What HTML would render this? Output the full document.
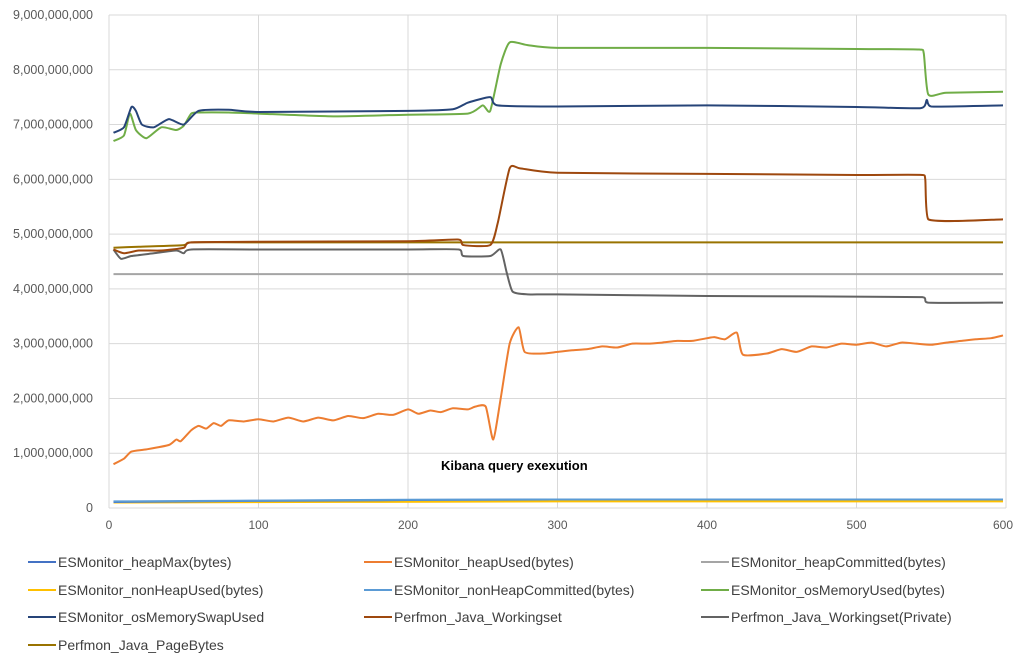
<!DOCTYPE html>
<html><head><meta charset="utf-8"><style>
body{margin:0;background:#fff;width:1024px;height:663px;overflow:hidden;font-family:"Liberation Sans",sans-serif}
svg text{font-family:"Liberation Sans",sans-serif}
</style></head><body>
<svg id="chart" width="1024" height="663" viewBox="0 0 1024 663" xmlns="http://www.w3.org/2000/svg">
<g id="grid"></g><g id="axes"></g><g id="lines"></g>
<text x="441" y="470" font-size="13" font-weight="bold" fill="#000">Kibana query exexution</text>
<g id="legend"></g>
</svg>
<script>
const yTicks=[0,1,2,3,4,5,6,7,8,9];
const yTickLabels=["0","1,000,000,000","2,000,000,000","3,000,000,000","4,000,000,000","5,000,000,000","6,000,000,000","7,000,000,000","8,000,000,000","9,000,000,000"];
const xTicks=[0,100,200,300,400,500,600];
const seriesNames=["ESMonitor_heapMax(bytes)","ESMonitor_heapUsed(bytes)","ESMonitor_heapCommitted(bytes)","ESMonitor_nonHeapUsed(bytes)","ESMonitor_nonHeapCommitted(bytes)","ESMonitor_osMemoryUsed(bytes)","ESMonitor_osMemorySwapUsed","Perfmon_Java_Workingset","Perfmon_Java_Workingset(Private)","Perfmon_Java_PageBytes"];
const seriesColors=["#4472c4","#ed7d31","#a5a5a5","#ffc000","#5b9bd5","#70ad47","#264478","#9e480e","#636363","#997300"];
// values in billions of bytes, [x, value]
const heapMax=[[3,0.11],[100,0.13],[200,0.145],[300,0.155],[598,0.155]];
const heapUsed=[[3,0.80],[10,0.90],[15,1.03],[25,1.07],[40,1.15],[45,1.25],[48,1.22],[55,1.42],[60,1.50],[65,1.45],[70,1.55],[75,1.50],[80,1.60],[90,1.58],[100,1.62],[110,1.58],[120,1.65],[130,1.58],[140,1.65],[150,1.60],[160,1.68],[170,1.64],[180,1.72],[190,1.70],[200,1.80],[207,1.72],[215,1.78],[222,1.75],[230,1.82],[240,1.80],[245,1.85],[252,1.85],[257,1.25],[262,2.0],[268,3.0],[274,3.3],[278,2.85],[290,2.82],[300,2.85],[310,2.88],[320,2.9],[330,2.95],[340,2.93],[350,3.0],[360,3.0],[370,3.02],[380,3.05],[390,3.05],[400,3.1],[405,3.12],[412,3.08],[420,3.2],[424,2.8],[440,2.82],[450,2.9],[460,2.85],[470,2.95],[480,2.93],[490,3.0],[500,2.98],[510,3.02],[520,2.95],[530,3.02],[540,3.0],[550,2.98],[560,3.02],[570,3.05],[580,3.08],[590,3.1],[598,3.15]];
const heapCommitted=[[3,4.27],[598,4.27]];
const nonHeapUsed=[[3,0.10],[300,0.12],[598,0.12]];
const nonHeapCommitted=[[3,0.12],[100,0.135],[200,0.15],[300,0.155],[598,0.155]];
const osMemoryUsed=[[3,6.7],[10,6.8],[14,7.2],[18,6.9],[25,6.75],[35,6.95],[45,6.9],[50,6.98],[55,7.2],[60,7.22],[80,7.22],[100,7.2],[150,7.15],[200,7.18],[240,7.2],[250,7.35],[255,7.25],[262,8.1],[268,8.5],[280,8.45],[300,8.4],[400,8.4],[500,8.38],[542,8.37],[545,8.3],[548,7.55],[560,7.58],[598,7.6]];
const osMemorySwapUsed=[[3,6.85],[10,6.95],[15,7.32],[18,7.25],[22,7.0],[30,6.95],[40,7.1],[50,7.0],[60,7.25],[80,7.27],[100,7.23],[200,7.25],[230,7.28],[240,7.4],[255,7.5],[260,7.35],[300,7.33],[400,7.35],[500,7.32],[543,7.3],[547,7.45],[550,7.33],[598,7.35]];
const workingset=[[3,4.72],[10,4.65],[20,4.7],[35,4.7],[50,4.75],[55,4.85],[100,4.86],[200,4.87],[234,4.9],[237,4.8],[255,4.8],[260,5.2],[268,6.2],[275,6.2],[300,6.12],[400,6.1],[500,6.08],[544,6.08],[546,6.0],[548,5.27],[598,5.27]];
const workingsetPrivate=[[3,4.72],[8,4.55],[15,4.6],[30,4.65],[45,4.7],[50,4.65],[55,4.72],[100,4.72],[200,4.72],[234,4.72],[237,4.6],[255,4.6],[262,4.72],[266,4.3],[270,3.95],[280,3.9],[300,3.9],[400,3.87],[544,3.85],[548,3.75],[598,3.75]];
const pageBytes=[[3,4.75],[20,4.77],[50,4.8],[55,4.85],[100,4.85],[300,4.85],[598,4.85]];
const seriesData=[heapMax,heapUsed,heapCommitted,nonHeapUsed,nonHeapCommitted,osMemoryUsed,osMemorySwapUsed,workingset,workingsetPrivate,pageBytes];
const drawOrder=[3,0,4,2,1,9,8,7,5,6];

const NS="http://www.w3.org/2000/svg";
const X0=109,X1=1006,Y0=508,Y1=15;
const sx=v=>X0+(v/600)*(X1-X0);
const sy=v=>Y0-(v/9)*(Y0-Y1);
function mk(tag,attrs,parent){const e=document.createElementNS(NS,tag);for(const k in attrs)e.setAttribute(k,attrs[k]);parent.appendChild(e);return e;}
const grid=document.getElementById('grid'),axes=document.getElementById('axes'),lines=document.getElementById('lines'),legend=document.getElementById('legend');
yTicks.forEach((t,i)=>{
  const l=mk('line',{x1:X0,x2:X1,y1:sy(t),y2:sy(t),stroke:'#d9d9d9','stroke-width':1},grid);
  
  
  const tx=mk('text',{x:93,y:sy(t)+4,'text-anchor':'end','font-size':12.5,fill:'#595959'},axes);
  tx.textContent=yTickLabels[i];
  
  
});
xTicks.forEach(t=>{
  const l=mk('line',{x1:sx(t),x2:sx(t),y1:Y1,y2:Y0,stroke:'#d9d9d9','stroke-width':1},grid);
  
  
  const tx=mk('text',{x:sx(t)-(t===600?3:0),y:529,'text-anchor':'middle','font-size':12,fill:'#595959'},axes);
  tx.textContent=String(t);
  
  
});
function pathFor(pts){
  const p=pts.map(d=>[sx(d[0]),sy(d[1])]);
  let s='M'+p[0][0]+','+p[0][1];
  for(let i=0;i<p.length-1;i++){
    const p0=p[i-1]||p[i],p1=p[i],p2=p[i+1],p3=p[i+2]||p2;
    const c1=[p1[0]+(p2[0]-p0[0])/10,p1[1]+(p2[1]-p0[1])/10];
    const c2=[p2[0]-(p3[0]-p1[0])/10,p2[1]-(p3[1]-p1[1])/10];
    c1[0]=Math.min(Math.max(c1[0],p1[0]),p2[0]);c2[0]=Math.min(Math.max(c2[0],p1[0]),p2[0]);
    s+='C'+c1[0]+','+c1[1]+' '+c2[0]+','+c2[1]+' '+p2[0]+','+p2[1];
  }
  return s;
}
drawOrder.forEach(i=>{
  const pa=mk('path',{d:pathFor(seriesData[i]),fill:'none',stroke:seriesColors[i],'stroke-width':2,'stroke-linejoin':'round'},lines);
  
  
});
const colX=[28,364,701],rowY=[562,590,617,645];
seriesNames.forEach((n,i)=>{
  const cx=colX[i%3],cy=rowY[Math.floor(i/3)];
  const g=mk('g',{},legend);
  
  
  mk('line',{x1:cx,x2:cx+28,y1:cy,y2:cy,stroke:seriesColors[i],'stroke-width':2},g);
  const t=mk('text',{x:cx+30,y:cy+5,'font-size':14,fill:'#404040'},g);
  t.textContent=n;
});
</script>
</body></html>
